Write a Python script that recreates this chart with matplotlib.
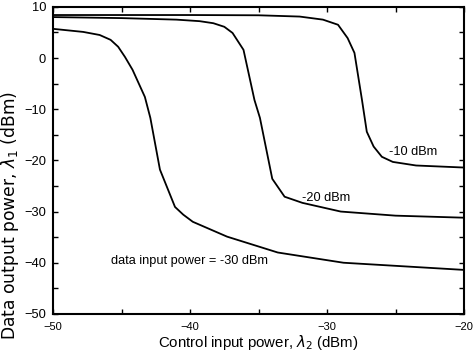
import matplotlib
matplotlib.use("Agg")
import matplotlib.pyplot as plt
from matplotlib.ticker import MultipleLocator

plt.rcParams['font.family'] = ['Liberation Sans', 'DejaVu Sans']

x_m10 = [-50, -40, -35, -32, -30.3, -29.2, -28.5, -28.0, -27.45, -27.1, -26.6, -26.0, -25.2, -23.5, -20]
y_m10 = [8.4, 8.4, 8.35, 8.1, 7.5, 6.5, 3.9, 1.0, -8.2, -14.4, -17.3, -19.3, -20.3, -21.0, -21.4]

x_m20 = [-50, -45, -41, -39.3, -38.3, -37.5, -36.9, -36.1, -35.3, -34.9, -34.0, -33.1, -31.8, -29.0, -25, -20]
y_m20 = [8.0, 7.8, 7.5, 7.2, 6.8, 6.1, 4.9, 1.6, -8.2, -11.7, -23.6, -27.1, -28.3, -30.0, -30.8, -31.2]

x_m30 = [-50, -47.8, -46.6, -45.8, -45.25, -44.75, -44.2, -43.3, -42.9, -42.2, -41.1, -40.5, -39.8, -37.3, -33.6, -28.8, -20]
y_m30 = [5.7, 5.1, 4.5, 3.55, 2.2, 0.2, -2.3, -7.6, -11.7, -21.8, -29.1, -30.6, -32.0, -34.9, -38.0, -40.0, -41.4]

labels = ["-10 dBm", "-20 dBm", "data input power = -30 dBm"]
label_pos = [(-25.5, -18.3), (-31.8, -27.4), (-45.8, -39.6)]

fig = plt.figure(figsize=(4.74, 3.6), dpi=100)
ax = fig.add_axes([0.112, 0.128, 0.867, 0.853])

for xs, ys in [(x_m10, y_m10), (x_m20, y_m20), (x_m30, y_m30)]:
    ax.plot(xs, ys, color='black', lw=1.3)

for t, (lx, ly) in zip(labels, label_pos):
    ax.text(lx, ly, t, fontsize=9.2, va='center', ha='left')

ax.set_xlim(-50, -20)
ax.set_ylim(-50, 10)
ax.xaxis.set_major_locator(MultipleLocator(10))
ax.xaxis.set_minor_locator(MultipleLocator(5))
ax.yaxis.set_major_locator(MultipleLocator(10))
ax.yaxis.set_minor_locator(MultipleLocator(5))
ax.tick_params(which='both', direction='in', top=True, right=True, length=3.5, width=1)
ax.tick_params(axis='x', labelsize=8, pad=5.5)
ax.tick_params(axis='y', labelsize=9.3, pad=5)
for s in ax.spines.values():
    s.set_linewidth(1.5)

ax.set_xlabel(r"Control input power, $\lambda_2$ (dBm)", fontsize=10.8)
ax.xaxis.set_label_coords(0.5, -0.062)
ax.set_ylabel(r"Data output power, $\lambda_1$ (dBm)", fontsize=12.3,
              family=['DejaVu Sans'])
ax.yaxis.set_label_coords(-0.077, 0.319)

fig.savefig("out.png", dpi=100)
